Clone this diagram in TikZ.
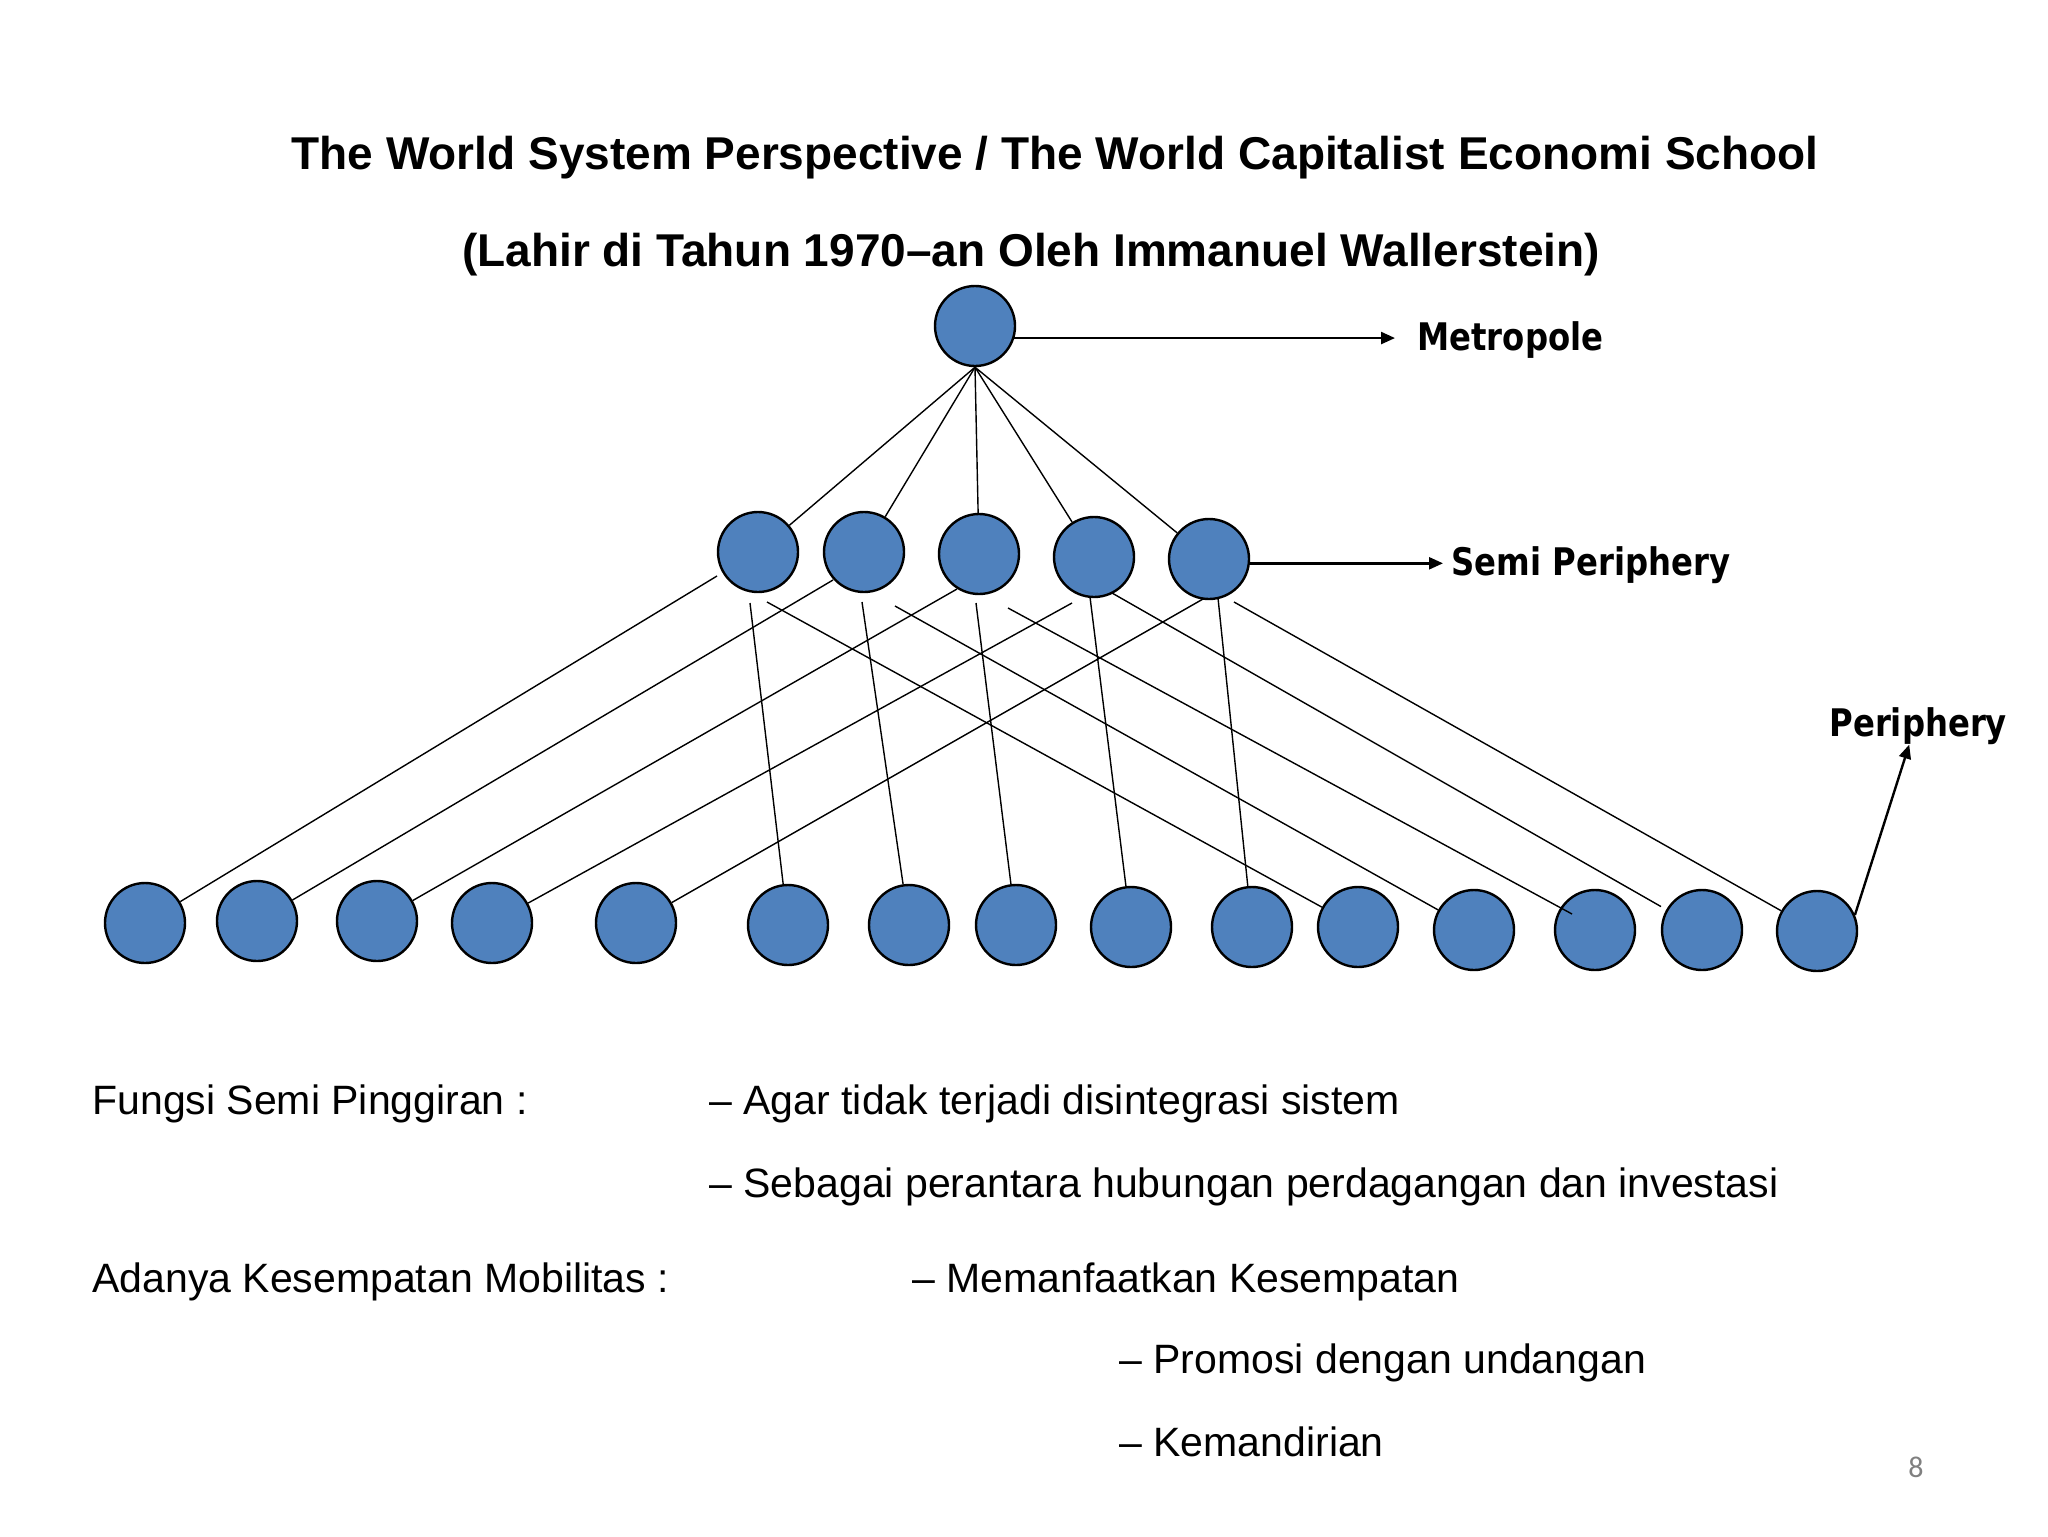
\documentclass[tikz,border=0pt]{standalone}
\usepackage{fontspec}
\usetikzlibrary{arrows.meta}
\setmainfont{Liberation Sans}
\newfontfamily\levelfont{DejaVu Sans}[FakeStretch=0.85]
\newfontfamily\pagefont{Carlito}
\definecolor{ballblue}{HTML}{4F81BD}

\begin{document}
\begin{tikzpicture}[x=0.5pt,y=-0.5pt,
	ball/.style={circle,draw=black,line width=1.2pt,fill=ballblue,minimum size=40pt,inner sep=0pt},
	tie/.style={line width=0.7pt},
	pointer/.style={line width=1.2pt,-{Triangle[length=7pt,width=6pt]}},
	levellabel/.style={font=\levelfont\bfseries\fontsize{19}{22}\selectfont,anchor=base west,inner sep=0pt},
	notetext/.style={font=\fontsize{20.5}{24}\selectfont,anchor=base west,inner sep=0pt}]
			\fill[white] (0,0) rectangle (2048,1536);
			% title
			\node[font=\bfseries\fontsize{23}{28}\selectfont,anchor=base,inner sep=0pt] (title) at (1055,169) {The World System Perspective / The World Capitalist Economi School};
			\node[font=\bfseries\fontsize{23}{28}\selectfont,anchor=base,inner sep=0pt] (subtitle) at (1031,266) {(Lahir di Tahun 1970–an Oleh Immanuel Wallerstein)};
			% metropole and semi periphery
			\node[ball] (m) at (975,326) {};
			\node[ball] (s1) at (758,552) {};
			\node[ball] (s2) at (864,552) {};
			\node[ball] (s3) at (979,554) {};
			\node[ball] (s4) at (1094,557) {};
			\node[ball] (s5) at (1209,559) {};
			% periphery
			\node[ball] (p1) at (145,923) {};
			\node[ball] (p2) at (257,921) {};
			\node[ball] (p3) at (377,921) {};
			\node[ball] (p4) at (492,923) {};
			\node[ball] (p5) at (636,923) {};
			\node[ball] (p6) at (788,925) {};
			\node[ball] (p7) at (909,925) {};
			\node[ball] (p8) at (1016,925) {};
			\node[ball] (p9) at (1131,927) {};
			\node[ball] (p10) at (1252,927) {};
			\node[ball] (p11) at (1358,927) {};
			\node[ball] (p12) at (1474,930) {};
			\node[ball] (p13) at (1595,930) {};
			\node[ball] (p14) at (1702,930) {};
			\node[ball] (p15) at (1817,931) {};
			\node[levellabel] (metro) at (1417,350) {Metropole};
			\node[levellabel] (semi) at (1451,575) {Semi Periphery};
			\node[levellabel] (peri) at (1829,736) {Periphery};
			\draw[tie] (m.south) to (s1);
			\draw[tie] (m.south) to (s2);
			\draw[tie] (m.south) to (s3);
			\draw[tie] (m.south) to (s4);
			\draw[tie] (m.south) to (s5);
			\draw[tie] ([shift={(-41,24)}]s1.center) to (p1);
			\draw[tie] ([shift={(-31,28)}]s2.center) to (p2);
			\draw[tie] ([shift={(-22,35)}]s3.center) to (p3);
			\draw[tie] ([shift={(-22,46)}]s4.center) to (p4);
			\draw[tie] ([shift={(-6,40)}]s5.center) to (p5);
			\draw[tie] ([shift={(-8,51)}]s1.center) to (p6);
			\draw[tie] ([shift={(-2,50)}]s2.center) to (p7);
			\draw[tie] ([shift={(-3,49)}]s3.center) to (p8);
			\draw[tie] ([shift={(-4,40)}]s4.center) to (p9);
			\draw[tie] ([shift={(9,39)}]s5.center) to (p10);
			\draw[tie] ([shift={(9,50)}]s1.center) to (p11);
			\draw[tie] ([shift={(31,54)}]s2.center) to (p12);
			\draw[tie] ([shift={(29,54)}]s3.center) to ([shift={(-23,-16)}]p13.center);
			\draw[tie,shorten >=3pt] ([shift={(18,36)}]s4.center) to (p14);
			\draw[tie] ([shift={(25,43)}]s5.center) to (p15);
			\draw[pointer,shorten >=11pt] (m.-17) to (m.-17 -| metro.west);
			\draw[pointer,shorten >=4pt] (s5.-6) to (s5.-6 -| semi.west);
			\draw[pointer] (p15.23) to ([xshift=-4.5pt]peri.south);
			% notes
			\node[notetext] (f1) at (92,1114) {Fungsi Semi Pinggiran :};
			\node[notetext] (f2) at (709,1114) {– Agar tidak terjadi disintegrasi sistem};
			\node[notetext] (f3) at (709,1197) {– Sebagai perantara hubungan perdagangan dan investasi};
			\node[notetext] (a1) at (92,1292) {Adanya Kesempatan Mobilitas :};
			\node[notetext] (a2) at (912,1292) {– Memanfaatkan Kesempatan};
			\node[notetext] (a3) at (1119,1373) {– Promosi dengan undangan};
			\node[notetext] (a4) at (1119,1456) {– Kemandirian};
			\node[font=\pagefont\fontsize{15}{18}\selectfont,text=gray,anchor=base,inner sep=0pt] (pg) at (1916,1477) {8};
			\end{tikzpicture}
\end{document}
